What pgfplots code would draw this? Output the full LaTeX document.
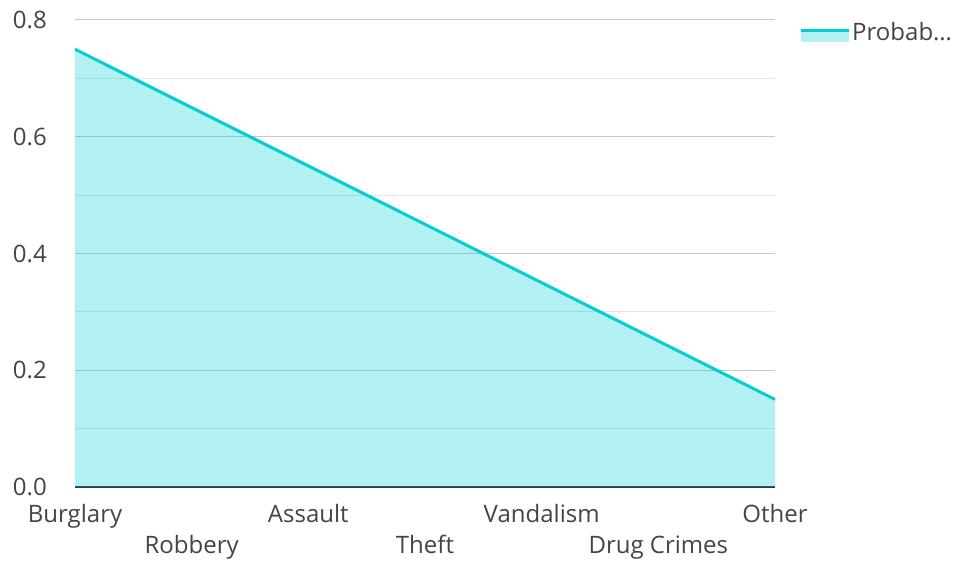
\documentclass[border=0pt]{standalone}
\usepackage{pgfplots}
\pgfplotsset{compat=1.18}
\usepackage{fontspec}
\setmainfont{Open Sans}
\definecolor{turq}{RGB}{0,206,209}
\definecolor{lab}{RGB}{68,68,68}
\begin{document}
\fontsize{24}{28}\selectfont
\begin{tikzpicture}
\begin{axis}[name=ax, scale only axis, width=700pt, height=467pt, at={(0,0)}, anchor=south west,
  xmin=0, xmax=6, ymin=0, ymax=0.8,
  xtick={0,...,6},
  xticklabels={Burglary,{\strut\\Robbery},Assault,{\strut\\Theft},Vandalism,{\strut\\Drug Crimes},Other},
  xticklabel style={align=center, anchor=north, yshift=-9pt, text=lab, font=\fontsize{24}{29}\selectfont},
  ytick={0,0.2,0.4,0.6,0.8}, minor ytick={0.1,0.3,0.5,0.7},
  yticklabel style={text=lab, font=\fontsize{24}{28}\selectfont, xshift=-20pt, /pgf/number format/.cd, fixed, fixed zerofill, precision=1},
  /pgf/number format/assume math mode=true,
  ymajorgrids, yminorgrids,
  major grid style={color=black!22, line width=1pt},
  minor grid style={color=black!10, line width=1pt},
  axis x line*=bottom, axis y line*=left,
  y axis line style={draw=none},
  x axis line style={line width=2pt, color=black!80},
  major tick length=0pt, minor tick length=0pt,
  legend style={draw=none, fill=none, at={(1.03,1.004)}, anchor=north west, font=\fontsize{24}{28}\selectfont, text=lab,
    /tikz/every even column/.append style={column sep=14pt}},
  legend image code/.code={
    \path[draw=none, fill=turq, fill opacity=0.3] (0pt,-8.5pt) rectangle (48pt,1pt);
    \draw[turq, line width=3pt] (0pt,2.5pt) -- (48pt,2.5pt);
  },
]
\addplot[draw=none, fill=turq, fill opacity=0.3, forget plot] coordinates {(0,0.75) (1,0.65) (2,0.55) (3,0.45) (4,0.35) (5,0.25) (6,0.15)} \closedcycle;
\addplot[turq, line width=3pt] coordinates {(0,0.75) (1,0.65) (2,0.55) (3,0.45) (4,0.35) (5,0.25) (6,0.15)};
\addlegendentry{Probab\ldots}
\end{axis}
\pgfresetboundingbox
\path ([xshift=-75pt,yshift=-74pt]ax.south west) rectangle ([xshift=191pt,yshift=20pt]ax.north east);
\end{tikzpicture}
\end{document}
